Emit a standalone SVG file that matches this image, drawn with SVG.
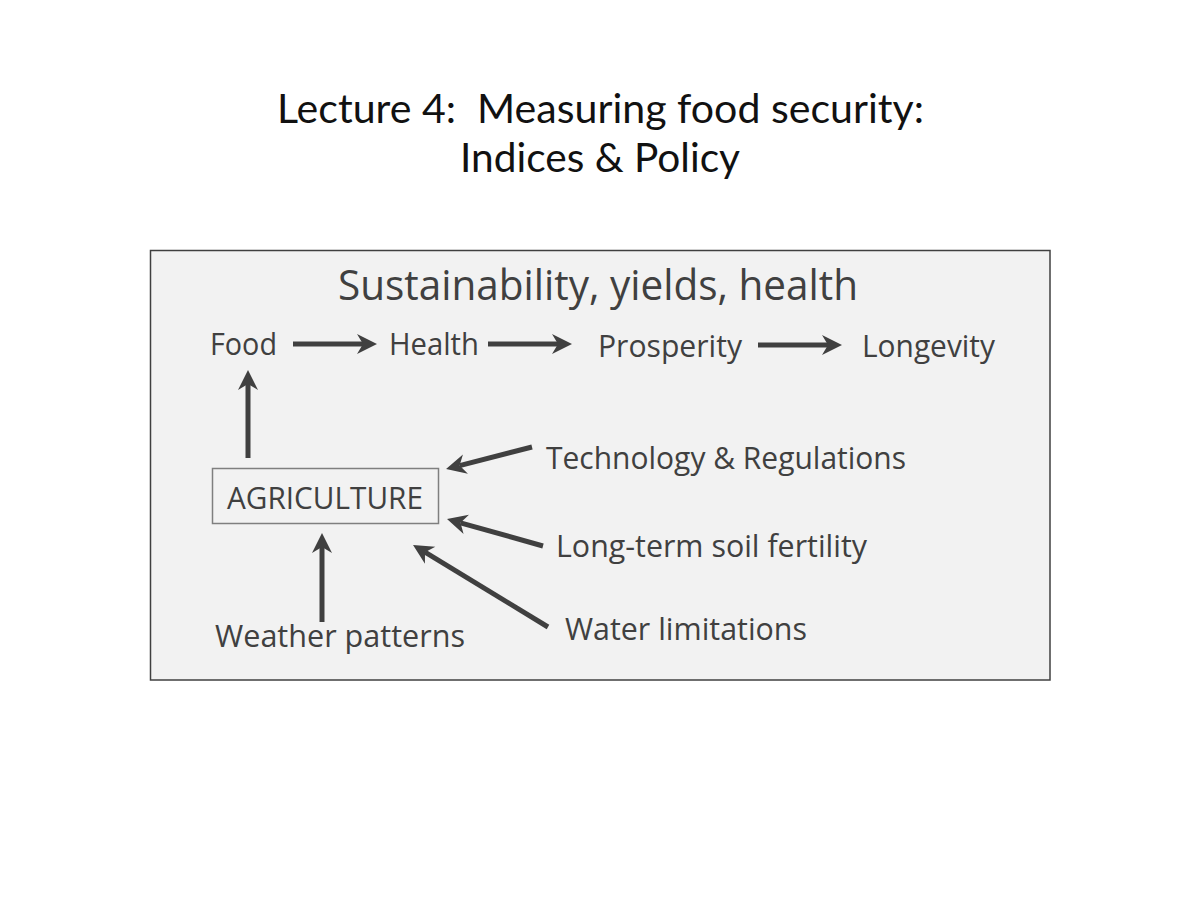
<svg xmlns="http://www.w3.org/2000/svg" width="1200" height="899" viewBox="0 0 1200 899">
<defs>
<style>
.t{font-family:"Open Sans","Liberation Sans",sans-serif;fill:#404040;font-size:31px}
.title{font-family:Lato,"Open Sans","Liberation Sans",sans-serif;fill:#111;font-size:40px;white-space:pre}
.big{font-family:"Open Sans","Liberation Sans",sans-serif;fill:#404040;font-size:42px}
.ar{stroke:#404040;stroke-width:5;fill:none;marker-end:url(#head)}
</style>
<marker id="head" markerUnits="userSpaceOnUse" markerWidth="30" markerHeight="30" refX="5" refY="10" orient="auto" overflow="visible">
<path d="M19,10 L-1,0 L5,10 L-1,20 Z" fill="#404040"/>
</marker>
</defs>
<rect width="1200" height="899" fill="#fff"/>
<g id="title">
<text class="title" x="277" y="123" textLength="647" lengthAdjust="spacingAndGlyphs" xml:space="preserve">Lecture 4:  Measuring food security:</text>
<text class="title" x="460" y="172" textLength="280" lengthAdjust="spacingAndGlyphs">Indices &amp; Policy</text>
</g>
<g id="panel">
<rect x="150.5" y="250.5" width="899.5" height="429.5" fill="#f2f2f2" stroke="#404040" stroke-width="1.5"/>
<text class="big" x="338" y="300" textLength="520" lengthAdjust="spacingAndGlyphs">Sustainability, yields, health</text>
</g>
<g id="food"><text class="t" x="210" y="355" textLength="67" lengthAdjust="spacingAndGlyphs">Food</text></g>
<g id="health"><text class="t" x="389" y="355" textLength="90" lengthAdjust="spacingAndGlyphs">Health</text></g>
<g id="prosperity"><text class="t" x="598" y="357" textLength="144" lengthAdjust="spacingAndGlyphs">Prosperity</text></g>
<g id="longevity"><text class="t" x="862" y="357" textLength="133" lengthAdjust="spacingAndGlyphs">Longevity</text></g>
<g id="agriculture">
<rect x="212.5" y="468.5" width="226" height="55" fill="none" stroke="#7f7f7f" stroke-width="1.5"/>
<text class="t" x="227" y="509" textLength="196" lengthAdjust="spacingAndGlyphs">AGRICULTURE</text>
</g>
<g id="technology"><text class="t" x="546" y="469" textLength="360" lengthAdjust="spacingAndGlyphs">Technology &amp; Regulations</text></g>
<g id="soil"><text class="t" x="556" y="557" textLength="311" lengthAdjust="spacingAndGlyphs">Long-term soil fertility</text></g>
<g id="water"><text class="t" x="565" y="640" textLength="242" lengthAdjust="spacingAndGlyphs">Water limitations</text></g>
<g id="weather"><text class="t" x="215" y="647" textLength="250" lengthAdjust="spacingAndGlyphs">Weather patterns</text></g>
<g id="connectors">
<line class="ar" x1="293" y1="344" x2="363" y2="344"/>
<line class="ar" x1="488" y1="344" x2="558" y2="344"/>
<line class="ar" x1="758" y1="345" x2="828" y2="345"/>
<line class="ar" x1="248" y1="458" x2="248" y2="384"/>
<line class="ar" x1="322" y1="622" x2="322" y2="547"/>
<line class="ar" x1="532" y1="447" x2="459.6" y2="465.6"/>
<line class="ar" x1="543" y1="546" x2="460.5" y2="522.8"/>
<line class="ar" x1="548" y1="627" x2="425" y2="552.2"/>
</g>
</svg>
